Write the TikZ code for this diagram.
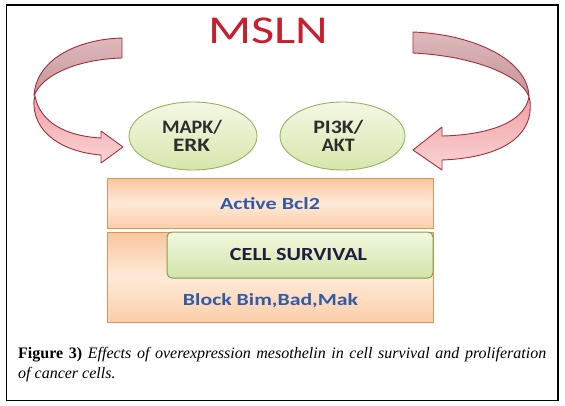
\documentclass[tikz,border=0pt]{standalone}
\usepackage{fontspec}
\setmainfont{Liberation Serif}
\newfontfamily\calib{Carlito}
\usetikzlibrary{shapes.geometric}
\definecolor{mslnred}{RGB}{200,30,45}
\definecolor{arrowline}{RGB}{165,45,60}
\definecolor{backpinkA}{RGB}{222,185,188}
\definecolor{backpinkB}{RGB}{196,148,152}
\definecolor{frontpink}{RGB}{240,160,166}
\definecolor{frontpinkL}{RGB}{250,212,212}
\definecolor{elline}{RGB}{150,178,95}
\definecolor{elltop}{RGB}{244,248,228}
\definecolor{ellbot}{RGB}{214,230,172}
\definecolor{orline}{RGB}{228,145,85}
\definecolor{ortop}{RGB}{250,198,158}
\definecolor{ormid}{RGB}{254,234,216}
\definecolor{orbot}{RGB}{251,206,170}
\definecolor{grline}{RGB}{130,160,70}
\definecolor{grtop}{RGB}{242,248,224}
\definecolor{grbot}{RGB}{208,228,168}
\definecolor{bluetext}{RGB}{50,90,165}
\definecolor{navytext}{RGB}{30,28,65}
\definecolor{elltext}{RGB}{45,45,45}
\newcommand{\xfit}[2]{\resizebox{#1}{\height}{#2}}
\tikzset{
  ribbonback/.style={draw=arrowline, line width=0.9pt, line join=round, top color=backpinkA, bottom color=backpinkB},
  ribbonfront/.style={draw=arrowline, line width=0.9pt, line join=round, top color=frontpink, bottom color=frontpinkL},
  pathway/.style={ellipse, draw=elline, line width=0.9pt, top color=elltop, bottom color=ellbot, inner sep=0pt},
  orbox/.style={rectangle, draw=orline, line width=1pt, top color=ortop, bottom color=orbot, middle color=ormid, inner sep=0pt},
  grbox/.style={rectangle, rounded corners=5pt, draw=grline, line width=1pt, top color=grtop, bottom color=grbot, inner sep=0pt},
  elltxt/.style={font=\calib\bfseries\fontsize{19}{20}\selectfont, text=elltext, anchor=base, inner sep=0pt},
  boxtxt/.style={font=\calib\bfseries\fontsize{17}{18}\selectfont, anchor=base, inner sep=0pt},
  captxt/.style={font=\fontsize{16}{20}\selectfont, anchor=base west, inner sep=0pt}
}
\begin{document}
\begin{tikzpicture}[x=1pt,y=-1pt]
\useasboundingbox (0,0) rectangle (565,405);
\fill[white] (0,0) rectangle (565,405);
\draw[line width=1.2pt] (6.5,5) rectangle (558,400.5);

% title
\node[font=\calib\fontsize{39.5}{40}\selectfont, text=mslnred, anchor=base, inner sep=0pt] (msln) at (268,43) {\xfit{120pt}{MSLN}};

% left ribbon arrow
\path[ribbonback] (122,38) .. controls (80,39) and (36,58) .. (34,96) .. controls (42,74) and (80,59) .. (122,58) -- cycle;
\path[ribbonfront] (35,96) .. controls (40,122) and (65,136) .. (101,138) -- (101,131) -- (123,147) -- (101,163) -- (101,155) .. controls (62,152) and (32,132) .. (34,100) -- cycle;

% right ribbon arrow
\path[ribbonback] (413,32) .. controls (470,34) and (528,58) .. (529,97) .. controls (522,76) and (475,56) .. (413,53) -- cycle;
\path[ribbonfront] (529,97) .. controls (524,124) and (485,135) .. (442,136) -- (442,127) -- (413,150) -- (442,170) -- (442,160) .. controls (495,158) and (534,140) .. (530,101) -- cycle;

% pathways
\node[pathway, minimum width=128pt, minimum height=68pt] (mapk) at (193,136) {};
\node[elltxt] (mapkA) at (192,133) {\xfit{60pt}{MAPK/}};
\node[elltxt] (mapkB) at (191.5,151.5) {\xfit{37pt}{ERK}};
\node[pathway, minimum width=125pt, minimum height=68pt] (pik) at (342.5,136) {};
\node[elltxt] (pikA) at (338.3,133) {\xfit{50pt}{PI3K/}};
\node[elltxt] (pikB) at (338.3,151.5) {\xfit{33pt}{AKT}};

% boxes
\node[orbox, minimum width=326pt, minimum height=50pt] (bclbox) at (270,203) {};
\node[boxtxt, text=bluetext] (bcltxt) at (270,209) {\xfit{100pt}{Active Bcl2}};
\node[orbox, minimum width=326pt, minimum height=90pt] (lowbox) at (270,277) {};
\node[grbox, minimum width=266pt, minimum height=46pt] (survbox) at (300,255) {};
\node[boxtxt, text=navytext, font=\calib\bfseries\fontsize{18.5}{19}\selectfont] (survtxt) at (298.5,260) {\xfit{137pt}{CELL SURVIVAL}};
\node[boxtxt, text=bluetext] (blocktxt) at (270.5,305) {\xfit{175pt}{Block Bim,Bad,Mak}};

% caption
\node[captxt] (capA) at (18,358) {\makebox[528pt][s]{\textbf{Figure 3)} \textit{Effects of overexpression mesothelin in cell survival and proliferation}}};
\node[captxt] (capB) at (18,378) {\textit{of cancer cells.}};
\end{tikzpicture}
\end{document}
